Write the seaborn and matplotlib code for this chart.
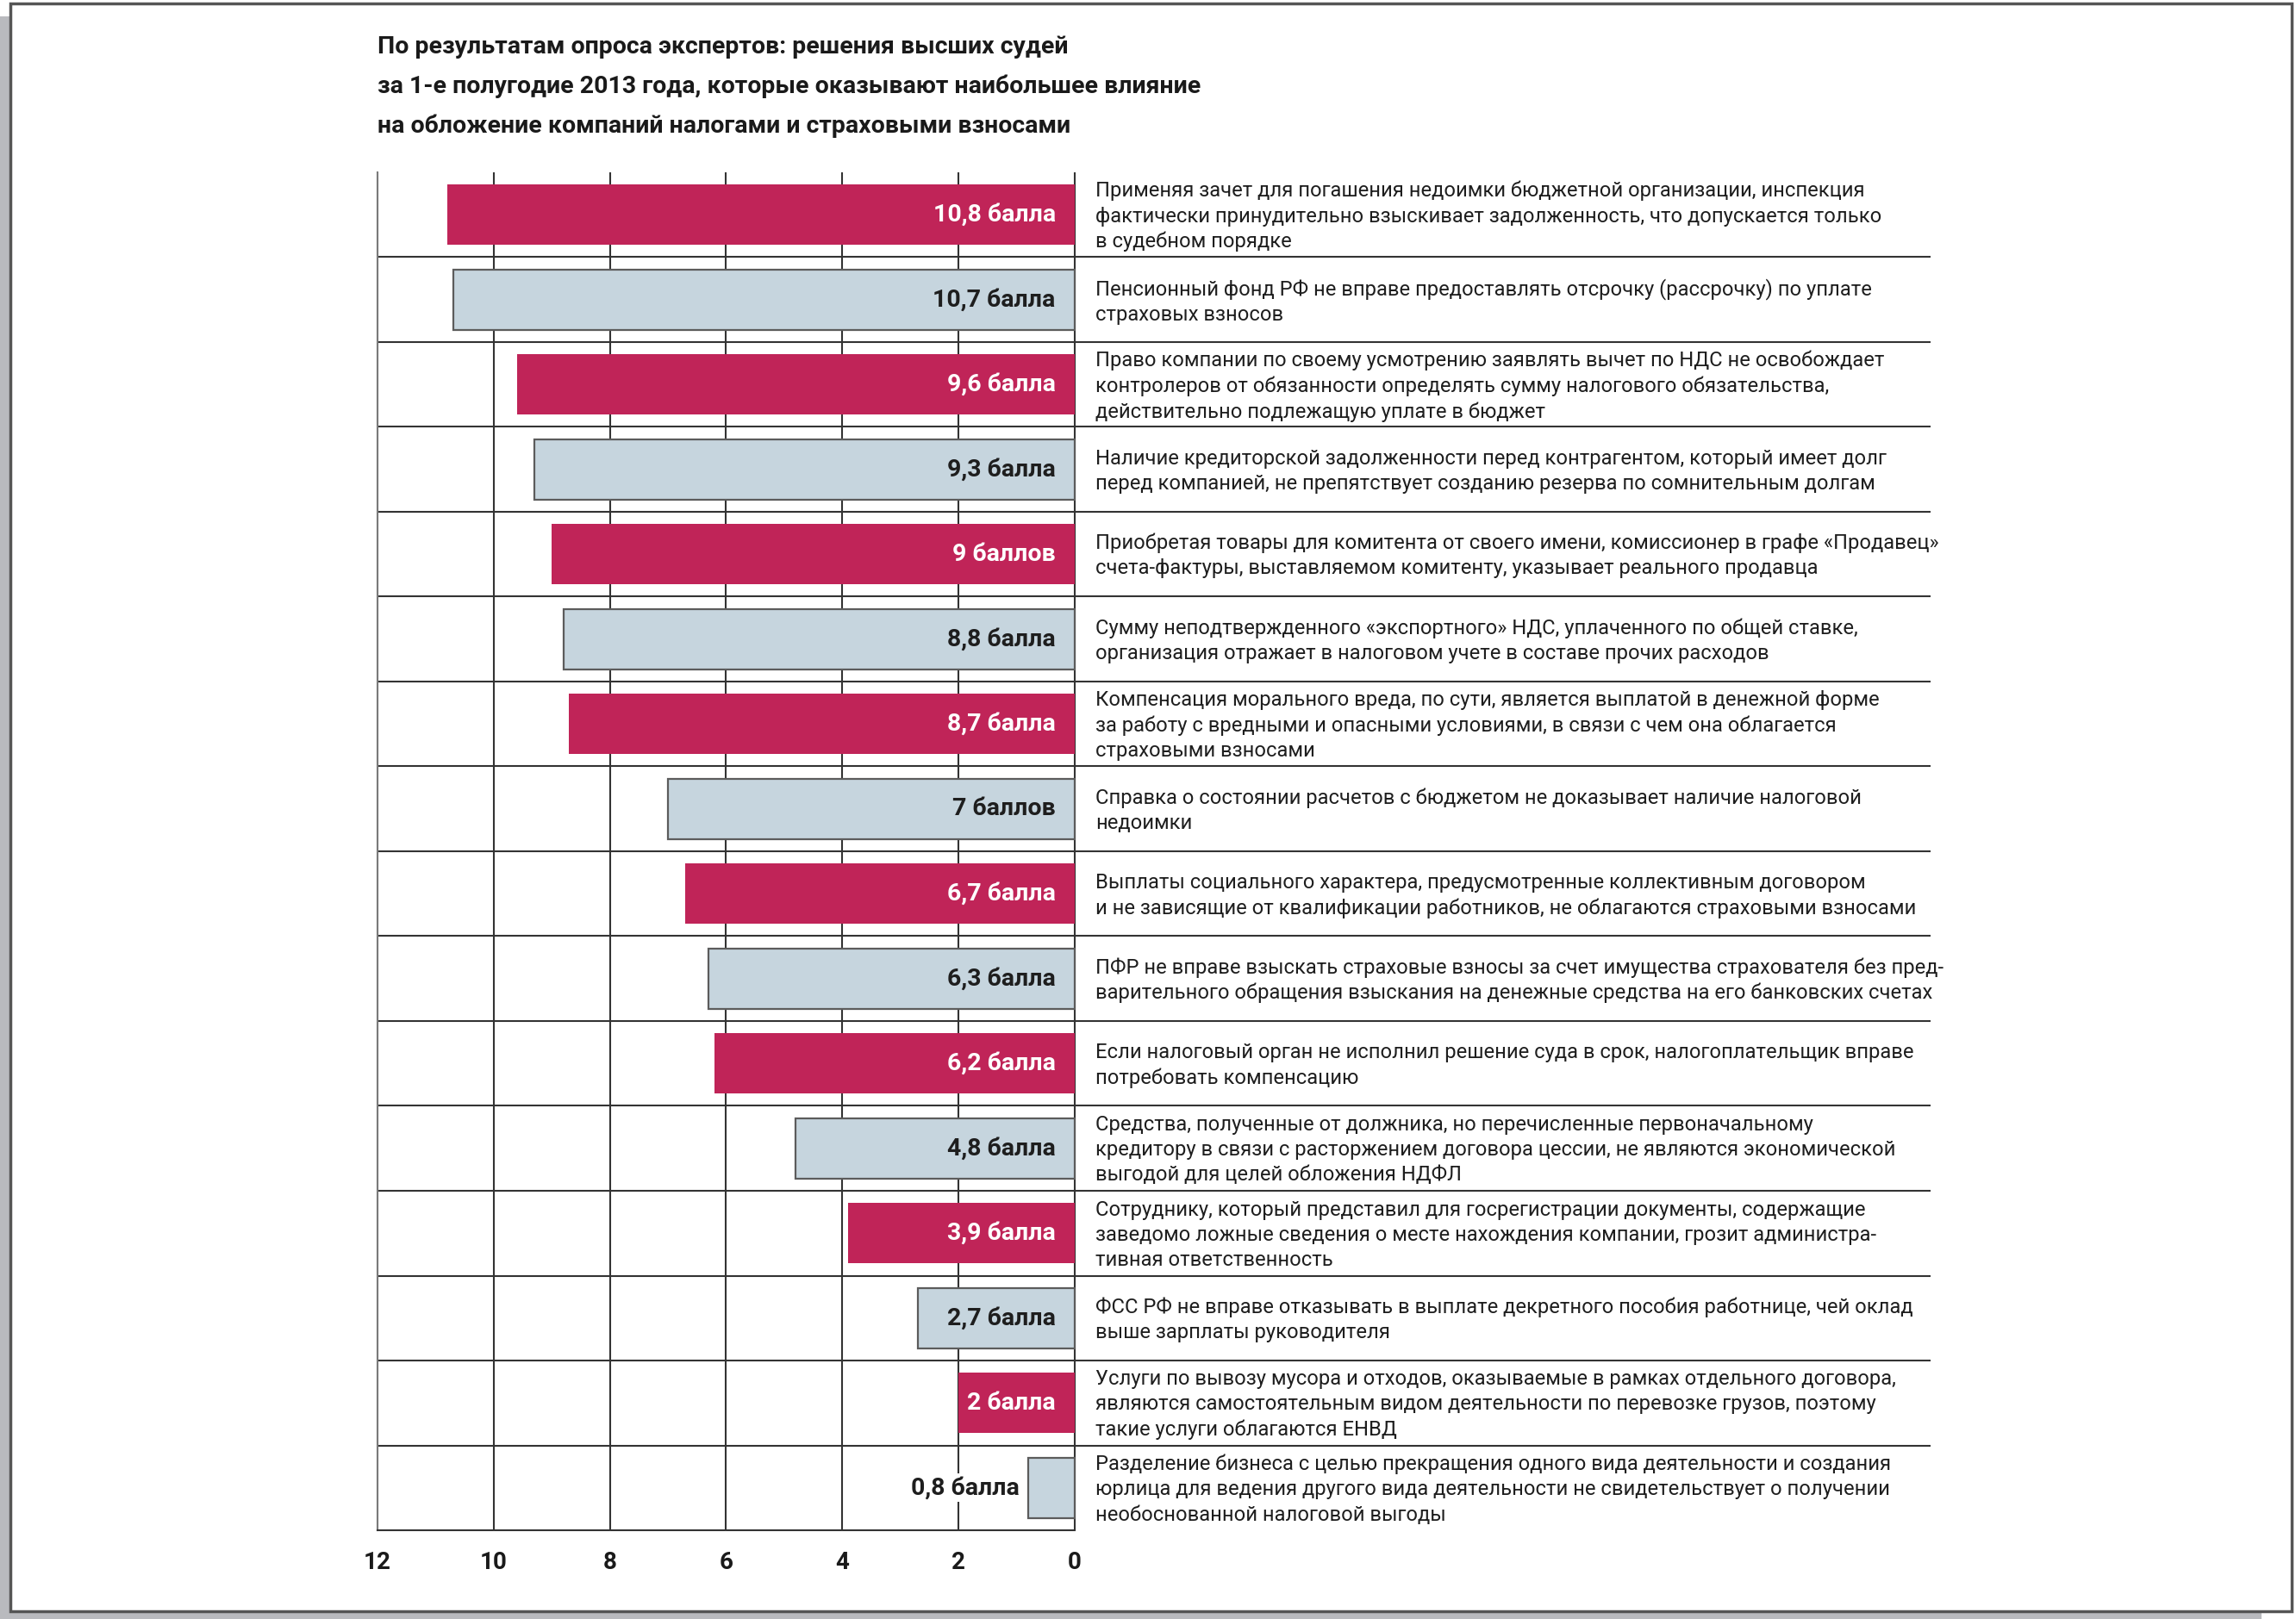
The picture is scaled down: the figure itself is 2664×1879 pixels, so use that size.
import matplotlib
matplotlib.use('Agg')
import matplotlib.pyplot as plt
from matplotlib.patches import Rectangle
import pandas as pd
import seaborn as sns

# data
scores = [10.8, 10.7, 9.6, 9.3, 9.0, 8.8, 8.7, 7.0, 6.7, 6.3, 6.2, 4.8, 3.9, 2.7, 2.0, 0.8]
score_labels = ['10,8 балла', '10,7 балла', '9,6 балла', '9,3 балла', '9 баллов', '8,8 балла',
                '8,7 балла', '7 баллов', '6,7 балла', '6,3 балла', '6,2 балла', '4,8 балла',
                '3,9 балла', '2,7 балла', '2 балла', '0,8 балла']
decisions = [
    'Применяя зачет для погашения недоимки бюджетной организации, инспекция\n'
    'фактически принудительно взыскивает задолженность, что допускается только\n'
    'в судебном порядке',
    'Пенсионный фонд РФ не вправе предоставлять отсрочку (рассрочку) по уплате\n'
    'страховых взносов',
    'Право компании по своему усмотрению заявлять вычет по НДС не освобождает\n'
    'контролеров от обязанности определять сумму налогового обязательства,\n'
    'действительно подлежащую уплате в бюджет',
    'Наличие кредиторской задолженности перед контрагентом, который имеет долг\n'
    'перед компанией, не препятствует созданию резерва по сомнительным долгам',
    'Приобретая товары для комитента от своего имени, комиссионер в графе «Продавец»\n'
    'счета-фактуры, выставляемом комитенту, указывает реального продавца',
    'Сумму неподтвержденного «экспортного» НДС, уплаченного по общей ставке,\n'
    'организация отражает в налоговом учете в составе прочих расходов',
    'Компенсация морального вреда, по сути, является выплатой в денежной форме\n'
    'за работу с вредными и опасными условиями, в связи с чем она облагается\n'
    'страховыми взносами',
    'Справка о состоянии расчетов с бюджетом не доказывает наличие налоговой\n'
    'недоимки',
    'Выплаты социального характера, предусмотренные коллективным договором\n'
    'и не зависящие от квалификации работников, не облагаются страховыми взносами',
    'ПФР не вправе взыскать страховые взносы за счет имущества страхователя без пред-\n'
    'варительного обращения взыскания на денежные средства на его банковских счетах',
    'Если налоговый орган не исполнил решение суда в срок, налогоплательщик вправе\n'
    'потребовать компенсацию',
    'Средства, полученные от должника, но перечисленные первоначальному\n'
    'кредитору в связи с расторжением договора цессии, не являются экономической\n'
    'выгодой для целей обложения НДФЛ',
    'Сотруднику, который представил для госрегистрации документы, содержащие\n'
    'заведомо ложные сведения о месте нахождения компании, грозит администра-\n'
    'тивная ответственность',
    'ФСС РФ не вправе отказывать в выплате декретного пособия работнице, чей оклад\n'
    'выше зарплаты руководителя',
    'Услуги по вывозу мусора и отходов, оказываемые в рамках отдельного договора,\n'
    'являются самостоятельным видом деятельности по перевозке грузов, поэтому\n'
    'такие услуги облагаются ЕНВД',
    'Разделение бизнеса с целью прекращения одного вида деятельности и создания\n'
    'юрлица для ведения другого вида деятельности не свидетельствует о получении\n'
    'необоснованной налоговой выгоды',
]
x_ticks = [12, 10, 8, 6, 4, 2, 0]
title_lines = [
    'По результатам опроса экспертов: решения высших судей',
    'за 1-е полугодие 2013 года, которые оказывают наибольшее влияние',
    'на обложение компаний налогами и страховыми взносами',
]

CRIMSON = '#c02458'
GREY = '#c6d5de'
LINE = '#333333'
bar_colors = [CRIMSON if i % 2 == 0 else GREY for i in range(len(scores))]

sns.set_style('white')
plt.rcParams['font.family'] = ['Roboto', 'DejaVu Sans']

df = pd.DataFrame({'item': [f'r{i}' for i in range(len(scores))], 'score': scores})

fig = plt.figure(figsize=(26.64, 18.79), dpi=100)
fig.patch.set_facecolor('white')

# page frame with a soft shadow
fig.patches.append(Rectangle((-0.01, -0.02), 0.995, 1.01, transform=fig.transFigure,
                             facecolor='#b9babe', edgecolor='none', zorder=-3))
fig.patches.append(Rectangle((0.0045, 0.0048), 0.9935, 0.9932, transform=fig.transFigure,
                             facecolor='white', edgecolor='#555555', lw=2.5, zorder=-2))

ax = fig.add_axes([0.1644, 0.0548, 0.6764, 0.8388])
ax.set_facecolor('none')
sns.barplot(data=df, x='score', y='item', hue='item', palette=bar_colors, legend=False,
            width=0.71, orient='h', saturation=1, ax=ax, zorder=2)

for patch, col in zip(ax.patches, bar_colors):
    if col == GREY:
        patch.set_edgecolor('#5c5c5c')
        patch.set_linewidth(1.6)
    else:
        patch.set_edgecolor('none')

ax.set_xlim(12, -14.73)
ax.set_ylim(len(scores) - 0.5, -0.5)
ax.set_xticks(x_ticks)
ax.set_xticklabels([str(t) for t in x_ticks], fontsize=20, fontweight='bold', color='#1a1a1a')
ax.tick_params(axis='x', length=0, pad=17)
ax.set_yticks([])
ax.set_xlabel('')
ax.set_ylabel('')

ax.grid(axis='x', color=LINE, lw=1.5)
ax.set_axisbelow(True)
for y in range(len(scores) - 1):
    ax.axhline(y + 0.5, color=LINE, lw=1.5, zorder=1)

for side in ['top', 'right']:
    ax.spines[side].set_visible(False)
ax.spines['left'].set_color('#7a7a7a')
ax.spines['left'].set_linewidth(1.5)
ax.spines['bottom'].set_color(LINE)
ax.spines['bottom'].set_linewidth(1.5)
ax.spines['bottom'].set_bounds(0, 12)

for i, (val, lab, txt) in enumerate(zip(scores, score_labels, decisions)):
    if val >= 1.8:
        ax.text(0.33, i, lab, ha='right', va='center', fontsize=20.5, fontweight='bold',
                color='white' if bar_colors[i] == CRIMSON else '#1e1e1e', zorder=3)
    else:
        # short bar: label sits outside, masking the gridline behind it
        ax.text(val + 0.15, i, lab, ha='right', va='center', fontsize=20.5, fontweight='bold',
                color='#1e1e1e', zorder=3,
                bbox=dict(facecolor='white', edgecolor='none', pad=2))
    ax.text(-0.36, i + 0.02, txt, ha='left', va='center', fontsize=17.1, color='#1e1e1e',
            linespacing=1.34, zorder=3)

for k, line in enumerate(title_lines):
    fig.text(0.1644, 1 - (54 + 46 * k) / 1879, line, ha='left', va='center',
             fontsize=20.5, fontweight='bold', color='#1a1a1a')

fig.savefig('out.png', dpi=100, facecolor='white')
